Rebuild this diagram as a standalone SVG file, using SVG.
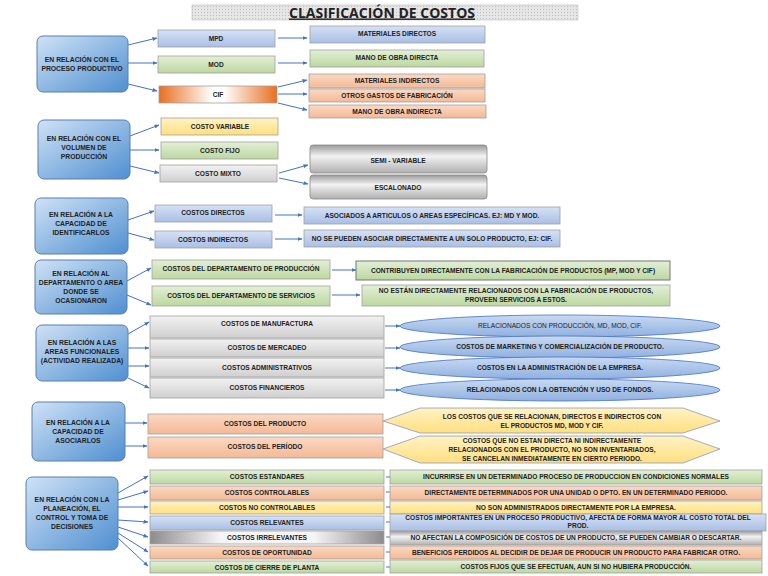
<svg xmlns="http://www.w3.org/2000/svg" width="768" height="576" viewBox="0 0 768 576">
<defs>
<linearGradient id="gB" x1="0" y1="0" x2="1" y2="1"><stop offset="0" stop-color="#cfe2f6"/><stop offset="1" stop-color="#4f8fd0"/></linearGradient>
<linearGradient id="gBl" x1="0" y1="0" x2="0" y2="1"><stop offset="0" stop-color="#d6e1f5"/><stop offset="1" stop-color="#a9bfe6"/></linearGradient>
<linearGradient id="gG" x1="0" y1="0" x2="0" y2="1"><stop offset="0" stop-color="#e3efd6"/><stop offset="1" stop-color="#bcd8a0"/></linearGradient>
<linearGradient id="gO" x1="0" y1="0" x2="0" y2="1"><stop offset="0" stop-color="#fbd9c3"/><stop offset="1" stop-color="#f4b996"/></linearGradient>
<linearGradient id="gY" x1="0" y1="0" x2="0" y2="1"><stop offset="0" stop-color="#fff2c4"/><stop offset="1" stop-color="#ffdf80"/></linearGradient>
<linearGradient id="gGr" x1="0" y1="0" x2="0" y2="1"><stop offset="0" stop-color="#f2f2f2"/><stop offset="1" stop-color="#cfcfcf"/></linearGradient>
<linearGradient id="gDk" x1="0" y1="0" x2="0" y2="1"><stop offset="0" stop-color="#9a9a9a"/><stop offset="0.4" stop-color="#f2f2f2"/><stop offset="1" stop-color="#b0b0b0"/></linearGradient>
<linearGradient id="gCif" x1="0" y1="0" x2="1" y2="0"><stop offset="0" stop-color="#e86f1f"/><stop offset="0.45" stop-color="#ffffff"/><stop offset="0.55" stop-color="#ffffff"/><stop offset="1" stop-color="#e86f1f"/></linearGradient>
<linearGradient id="gIrr" x1="0" y1="0" x2="1" y2="0"><stop offset="0" stop-color="#8c8c8c"/><stop offset="0.3" stop-color="#f5f5f5"/><stop offset="0.7" stop-color="#f5f5f5"/><stop offset="1" stop-color="#8c8c8c"/></linearGradient>
<linearGradient id="gE" x1="0" y1="0" x2="0" y2="1"><stop offset="0" stop-color="#c9daf2"/><stop offset="1" stop-color="#8fb0e0"/></linearGradient>
<pattern id="pT" width="3" height="3" patternUnits="userSpaceOnUse"><rect width="3" height="3" fill="#e6e6e6"/><rect width="1" height="1" fill="#bdbdbd"/></pattern>
<marker id="ar" viewBox="0 0 10 10" refX="9" refY="5" markerWidth="5" markerHeight="5" orient="auto"><path d="M0,1 L10,5 L0,9 z" fill="#4472c4"/></marker>
</defs>
<style>
text{font-family:"Liberation Sans",Arial,sans-serif;font-weight:bold;font-size:6.6px;fill:#222;text-anchor:middle}
.s{stroke:#a0a0a0;stroke-width:0.8}
.big{fill:url(#gB);stroke:#5a7fb0;stroke-width:1}
.bt{font-size:6.8px}
.c line,.c path{stroke:#4472c4;stroke-width:1;fill:none;marker-end:url(#ar)}
</style>
<rect width="768" height="576" fill="#fff"/>
<g id="title"><rect x="192" y="5" width="386" height="15" fill="url(#pT)" stroke="#bbb" stroke-width="0.6"/><text x="382" y="17.5" style="font-size:14px;font-family:'Open Sans','Liberation Sans',sans-serif;text-decoration:underline">CLASIFICACIÓN DE COSTOS</text></g>

<g id="connectors" class="c">
<line x1="128" y1="45" x2="157" y2="38"/><line x1="128" y1="63" x2="157" y2="63"/><line x1="128" y1="84" x2="157" y2="91"/>
<line x1="278" y1="38" x2="307" y2="38"/><line x1="278" y1="63" x2="307" y2="63"/>
<line x1="278" y1="87" x2="307" y2="80"/><line x1="278" y1="94" x2="307" y2="94"/><line x1="278" y1="103" x2="307" y2="110"/>
<line x1="130" y1="136" x2="159" y2="125"/><line x1="130" y1="150" x2="159" y2="150"/><line x1="130" y1="166" x2="159" y2="173"/>
<line x1="279" y1="173" x2="308" y2="165"/><line x1="279" y1="178" x2="308" y2="184"/>
<line x1="128" y1="220" x2="154" y2="211"/><line x1="128" y1="233" x2="154" y2="240"/>
<line x1="275" y1="215" x2="302" y2="215"/><line x1="275" y1="239" x2="302" y2="239"/>
<line x1="127" y1="281" x2="151" y2="268"/><line x1="127" y1="295" x2="151" y2="305"/>
<line x1="332" y1="270" x2="356" y2="270"/><line x1="332" y1="295" x2="360" y2="295"/>
<line x1="128" y1="334" x2="149" y2="322"/><line x1="128" y1="348" x2="149" y2="348"/><line x1="128" y1="366" x2="149" y2="366"/><line x1="128" y1="378" x2="149" y2="388"/>
<line x1="385" y1="326" x2="400" y2="326"/><line x1="385" y1="348" x2="400" y2="348"/><line x1="385" y1="368" x2="400" y2="368"/><line x1="385" y1="390" x2="400" y2="390"/>
<line x1="125" y1="423" x2="147" y2="423"/><line x1="125" y1="446" x2="147" y2="446"/>
<line x1="118" y1="493" x2="148" y2="476"/><line x1="118" y1="500" x2="148" y2="491"/><line x1="118" y1="507" x2="148" y2="507"/><line x1="118" y1="520" x2="148" y2="522"/><line x1="118" y1="527" x2="148" y2="537"/><line x1="118" y1="533" x2="148" y2="552"/><line x1="118" y1="538" x2="148" y2="566"/>
<line x1="386" y1="477" x2="396" y2="477"/><line x1="386" y1="492" x2="396" y2="492"/><line x1="386" y1="507" x2="396" y2="507"/><line x1="386" y1="522" x2="396" y2="522"/><line x1="386" y1="537" x2="396" y2="537"/><line x1="386" y1="552" x2="396" y2="552"/><line x1="386" y1="567" x2="396" y2="567"/>
</g>

<g id="g1"><rect class="big" x="37" y="36" width="91" height="56" rx="6"/><text class="bt" x="82" y="62">EN RELACIÓN CON EL</text><text class="bt" x="82" y="71">PROCESO PRODUCTIVO</text></g>
<g id="mpd"><rect class="s" x="158" y="30" width="117" height="17" fill="url(#gBl)"/><text x="216" y="41">MPD</text></g>
<g id="mod"><rect class="s" x="158" y="56" width="117" height="17" fill="url(#gG)"/><text x="216" y="67">MOD</text></g>
<g id="cif"><rect class="s" x="159" y="86" width="118" height="17" fill="url(#gCif)"/><text x="218" y="97">CIF</text></g>
<g id="md"><rect class="s" x="310" y="26" width="175" height="17" fill="url(#gBl)"/><text x="397" y="36">MATERIALES DIRECTOS</text></g>
<g id="mdd"><rect class="s" x="310" y="50" width="174" height="17" fill="url(#gG)"/><text x="397" y="60">MANO DE OBRA DIRECTA</text></g>
<g id="mi"><rect class="s" x="309" y="74" width="176" height="14" fill="url(#gO)"/><text x="397" y="83">MATERIALES INDIRECTOS</text></g>
<g id="og"><rect class="s" x="309" y="89" width="176" height="13" fill="url(#gO)"/><text x="397" y="98">OTROS GASTOS DE FABRICACIÓN</text></g>
<g id="moi"><rect class="s" x="309" y="105" width="177" height="13" fill="url(#gO)"/><text x="397" y="114">MANO DE OBRA INDIRECTA</text></g>

<g id="g2"><rect class="big" x="38" y="120" width="92" height="59" rx="6"/><text class="bt" x="84" y="141">EN RELACIÓN CON EL</text><text class="bt" x="84" y="150">VOLUMEN DE</text><text class="bt" x="84" y="159">PRODUCCIÓN</text></g>
<g id="cv"><rect class="s" x="161" y="118" width="117" height="17" fill="url(#gY)"/><text x="220" y="129">COSTO VARIABLE</text></g>
<g id="cfi"><rect class="s" x="161" y="142" width="117" height="17" fill="url(#gG)"/><text x="220" y="153">COSTO FIJO</text></g>
<g id="cm"><rect class="s" x="160" y="165" width="117" height="17" fill="url(#gGr)"/><text x="218" y="176">COSTO MIXTO</text></g>
<g id="sv"><rect x="310" y="145" width="177" height="28" rx="3" fill="url(#gDk)" stroke="#888" stroke-width="0.8"/><text x="398" y="163">SEMI - VARIABLE</text></g>
<g id="esc"><rect x="310" y="175" width="177" height="24" rx="3" fill="url(#gDk)" stroke="#888" stroke-width="0.8"/><text x="398" y="190">ESCALONADO</text></g>

<g id="g3"><rect class="big" x="35" y="198" width="93" height="56" rx="6"/><text class="bt" x="81" y="217">EN RELACIÓN A LA</text><text class="bt" x="81" y="226">CAPACIDAD DE</text><text class="bt" x="81" y="235">IDENTIFICARLOS</text></g>
<g id="cd"><rect class="s" x="155" y="205" width="117" height="17" fill="url(#gBl)"/><text x="213" y="215">COSTOS DIRECTOS</text></g>
<g id="ci"><rect class="s" x="155" y="231" width="117" height="17" fill="url(#gBl)"/><text x="213" y="242">COSTOS INDIRECTOS</text></g>
<g id="aso"><rect class="s" x="304" y="207" width="256" height="17" fill="url(#gBl)"/><text x="432" y="218">ASOCIADOS A ARTICULOS O AREAS ESPECÍFICAS. EJ: MD Y MOD.</text></g>
<g id="nsp"><rect class="s" x="304" y="230" width="256" height="17" fill="url(#gBl)"/><text x="432" y="241">NO SE PUEDEN ASOCIAR DIRECTAMENTE A UN SOLO PRODUCTO, EJ: CIF.</text></g>

<g id="g4"><rect class="big" x="35" y="260" width="92" height="54" rx="6"/><text class="bt" x="81" y="276">EN RELACIÓN AL</text><text class="bt" x="81" y="285">DEPARTAMENTO O AREA</text><text class="bt" x="81" y="294">DONDE SE</text><text class="bt" x="81" y="303">OCASIONARON</text></g>
<g id="cdp"><rect class="s" x="152" y="260" width="178" height="19" fill="url(#gG)"/><text x="241" y="271">COSTOS DEL DEPARTAMENTO DE PRODUCCIÓN</text></g>
<g id="cds"><rect class="s" x="152" y="286" width="178" height="20" fill="url(#gG)"/><text x="241" y="298">COSTOS DEL DEPARTAMENTO DE SERVICIOS</text></g>
<g id="con"><rect x="356" y="261" width="314" height="19" fill="url(#gG)" stroke="#777" stroke-width="1"/><text x="513" y="273">CONTRIBUYEN DIRECTAMENTE CON LA FABRICACIÓN DE PRODUCTOS (MP, MOD Y CIF)</text></g>
<g id="noe"><rect class="s" x="362" y="285" width="308" height="21" fill="url(#gG)"/><text x="516" y="293">NO ESTÁN DIRECTAMENTE RELACIONADOS CON LA FABRICACIÓN DE PRODUCTOS,</text><text x="516" y="302">PROVEEN SERVICIOS A ESTOS.</text></g>

<g id="g5"><rect class="big" x="36" y="325" width="92" height="56" rx="6"/><text class="bt" x="82" y="345">EN  RELACIÓN A LAS</text><text class="bt" x="82" y="354">AREAS FUNCIONALES</text><text class="bt" x="82" y="363">(ACTIVIDAD REALIZADA)</text></g>
<g id="cma"><rect class="s" x="150" y="316" width="234" height="22" fill="url(#gGr)"/><text x="267" y="326">COSTOS DE MANUFACTURA</text></g>
<g id="cme"><rect class="s" x="150" y="339" width="234" height="18" fill="url(#gGr)"/><text x="267" y="350">COSTOS DE MERCADEO</text></g>
<g id="cad"><rect class="s" x="150" y="358" width="234" height="19" fill="url(#gGr)"/><text x="267" y="370">COSTOS ADMINISTRATIVOS</text></g>
<g id="cfn"><rect class="s" x="150" y="378" width="234" height="20" fill="url(#gGr)"/><text x="267" y="390">COSTOS FINANCIEROS</text></g>
<g id="e1"><ellipse cx="560" cy="326" rx="160" ry="11" fill="url(#gE)" stroke="#4472c4" stroke-width="0.8"/><text x="560" y="328" style="font-weight:normal">RELACIONADOS CON PRODUCCIÓN, MD, MOD, CIF.</text></g>
<g id="e2"><ellipse cx="560" cy="347" rx="160" ry="11" fill="url(#gE)" stroke="#4472c4" stroke-width="0.8"/><text x="560" y="349">COSTOS DE MARKETING Y COMERCIALIZACIÓN DE PRODUCTO.</text></g>
<g id="e3"><ellipse cx="560" cy="368" rx="160" ry="11" fill="url(#gE)" stroke="#4472c4" stroke-width="0.8"/><text x="560" y="370">COSTOS EN LA ADMINISTRACIÓN DE LA EMPRESA.</text></g>
<g id="e4"><ellipse cx="560" cy="390" rx="160" ry="11" fill="url(#gE)" stroke="#4472c4" stroke-width="0.8"/><text x="560" y="392">RELACIONADOS CON LA OBTENCIÓN Y USO DE FONDOS.</text></g>

<g id="g6"><rect class="big" x="32" y="402" width="93" height="59" rx="6"/><text class="bt" x="78" y="425">EN RELACIÓN A LA</text><text class="bt" x="78" y="434">CAPACIDAD DE</text><text class="bt" x="78" y="443">ASOCIARLOS</text></g>
<g id="cpr"><rect class="s" x="148" y="414" width="235" height="20" fill="url(#gO)"/><text x="265" y="426">COSTOS DEL PRODUCTO</text></g>
<g id="cpe"><rect class="s" x="148" y="437" width="235" height="21" fill="url(#gO)"/><text x="265" y="449">COSTOS DEL PERÍODO</text></g>
<g id="h1"><polygon points="383,421 420,408 683,408 720,421 683,433 420,433" fill="url(#gY)" stroke="#8a9bb8" stroke-width="0.8"/><text x="552" y="419">LOS COSTOS QUE SE RELACIONAN, DIRECTOS E INDIRECTOS CON</text><text x="552" y="428">EL PRODUCTOS MD, MOD Y CIF.</text></g>
<g id="h2"><polygon points="383,449 420,436 683,436 720,449 683,463 420,463" fill="url(#gY)" stroke="#8a9bb8" stroke-width="0.8"/><text x="552" y="443">COSTOS QUE  NO ESTAN DIRECTA NI INDIRECTAMENTE</text><text x="552" y="452">RELACIONADOS CON EL PRODUCTO, NO SON INVENTARIADOS,</text><text x="552" y="461">SE CANCELAN INMEDIATAMENTE EN CIERTO PERIODO.</text></g>

<g id="g7"><rect class="big" x="26" y="477" width="92" height="73" rx="6"/><text class="bt" x="72" y="502">EN RELACIÓN CON LA</text><text class="bt" x="72" y="511">PLANEACIÓN, EL</text><text class="bt" x="72" y="520">CONTROL Y TOMA DE</text><text class="bt" x="72" y="529">DECISIONES</text></g>
<g id="r1"><rect class="s" x="150" y="470" width="234" height="14" fill="url(#gG)"/><text x="267" y="479">COSTOS ESTANDARES</text><rect class="s" x="390" y="470" width="372" height="14" fill="url(#gG)"/><text x="576" y="479">INCURRIRSE EN UN DETERMINADO PROCESO DE PRODUCCION EN CONDICIONES NORMALES</text></g>
<g id="r2"><rect class="s" x="150" y="486" width="234" height="14" fill="url(#gO)"/><text x="267" y="495">COSTOS CONTROLABLES</text><rect class="s" x="390" y="486" width="372" height="14" fill="url(#gO)"/><text x="576" y="495">DIRECTAMENTE DETERMINADOS POR UNA UNIDAD O DPTO. EN UN DETERMINADO PERIODO.</text></g>
<g id="r3"><rect class="s" x="150" y="501" width="234" height="13" fill="url(#gY)"/><text x="267" y="510">COSTOS NO CONTROLABLES</text><rect class="s" x="390" y="501" width="372" height="13" fill="url(#gY)"/><text x="576" y="510">NO SON ADMINISTRADOS DIRECTAMENTE POR LA EMPRESA.</text></g>
<g id="r4"><rect class="s" x="150" y="516" width="234" height="14" fill="url(#gBl)"/><text x="267" y="525">COSTOS RELEVANTES</text><rect class="s" x="390" y="514" width="376" height="17" fill="url(#gBl)"/><text x="578" y="520">COSTOS IMPORTANTES EN UN PROCESO PRODUCTIVO, AFECTA DE FORMA MAYOR AL COSTO TOTAL DEL</text><text x="578" y="528">PROD.</text></g>
<g id="r5"><rect class="s" x="150" y="531" width="234" height="13" fill="url(#gIrr)"/><text x="267" y="540">COSTOS IRRELEVANTES</text><rect class="s" x="390" y="531" width="372" height="14" fill="url(#gDk)"/><text x="576" y="540">NO AFECTAN LA COMPOSICIÓN DE COSTOS DE UN PRODUCTO, SE PUEDEN CAMBIAR O DESCARTAR.</text></g>
<g id="r6"><rect class="s" x="150" y="546" width="234" height="13" fill="url(#gO)"/><text x="267" y="555">COSTOS DE OPORTUNIDAD</text><rect class="s" x="390" y="546" width="372" height="13" fill="url(#gO)"/><text x="576" y="555">BENEFICIOS PERDIDOS AL DECIDIR DE DEJAR DE PRODUCIR UN PRODUCTO PARA FABRICAR OTRO.</text></g>
<g id="r7"><rect class="s" x="150" y="561" width="234" height="12" fill="url(#gG)"/><text x="267" y="570">COSTOS DE CIERRE DE PLANTA</text><rect class="s" x="390" y="560" width="372" height="13" fill="url(#gG)"/><text x="576" y="569">COSTOS FIJOS QUE SE EFECTUAN, AUN SI NO HUBIERA PRODUCCIÓN.</text></g>
</svg>
